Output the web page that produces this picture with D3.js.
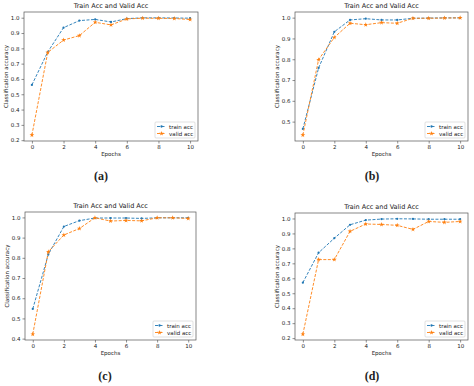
<!DOCTYPE html>
<html lang="en">
<head>
  <meta charset="UTF-8">
  <title>Train Acc and Valid Acc</title>
  <style>
    body { margin: 0; background: #fff; }
    svg { display: block; }
    text { font-family: "DejaVu Sans", sans-serif; fill: #222; }
    .caption { font-family: "Liberation Serif", "DejaVu Serif", serif; font-weight: bold; }
  </style>
</head>
<body>
  <script src="https://d3js.org/d3.v7.min.js"></script>
  <script>
    'use strict';

    const epochs = [0, 1, 2, 3, 4, 5, 6, 7, 8, 9, 10];
    const xTicks = [0, 2, 4, 6, 8, 10];

    const trainA = [0.561, 0.776, 0.935, 0.981, 0.989, 0.972, 0.994, 0.999, 0.999, 0.998, 0.997];
    const validA = [0.233, 0.773, 0.854, 0.883, 0.970, 0.953, 0.992, 0.997, 0.996, 0.995, 0.988];
    const trainB = [0.465, 0.758, 0.932, 0.989, 0.995, 0.989, 0.989, 0.997, 0.998, 0.999, 0.999];
    const validB = [0.435, 0.798, 0.905, 0.973, 0.966, 0.976, 0.973, 0.997, 0.997, 0.998, 0.999];
    const trainC = [0.547, 0.817, 0.955, 0.984, 0.997, 0.997, 0.997, 0.995, 0.998, 0.998, 0.998];
    const validC = [0.422, 0.830, 0.913, 0.945, 0.998, 0.982, 0.985, 0.983, 0.998, 0.998, 0.995];
    const trainD = [0.571, 0.771, 0.868, 0.958, 0.989, 0.996, 0.998, 0.997, 0.995, 0.995, 0.995];
    const validD = [0.226, 0.725, 0.725, 0.914, 0.963, 0.960, 0.954, 0.927, 0.980, 0.974, 0.980];

    const yTicksA = [0.2, 0.3, 0.4, 0.5, 0.6, 0.7, 0.8, 0.9, 1.0];
    const yTicksB = [0.5, 0.6, 0.7, 0.8, 0.9, 1.0];
    const yTicksC = [0.4, 0.5, 0.6, 0.7, 0.8, 0.9, 1.0];

    const seriesNames = ['train acc', 'valid acc'];
    const colors = ['#1f77b4', '#ff7f0e'];

    const W = 474, H = 386;

    const svg = d3.select('body').append('svg')
      .attr('width', W)
      .attr('height', H);

    // one panel = one matplotlib figure
    const panels = [
      { label: '(a)', train: trainA, valid: validA, yTicks: yTicksA, box: [24, 12, 198, 141], capX: 101, capY: 180 },
      { label: '(b)', train: trainB, valid: validB, yTicks: yTicksB, box: [295, 12, 468, 141], capX: 372, capY: 180 },
      { label: '(c)', train: trainC, valid: validC, yTicks: yTicksC, box: [25, 212, 196, 340], capX: 105, capY: 380 },
      { label: '(d)', train: trainD, valid: validD, yTicks: yTicksA, box: [295, 213, 468, 340], capX: 372, capY: 380 }
    ];

    function drawPanel(p) {
      const [x0, y0, x1, y1] = p.box;
      const all = p.train.concat(p.valid);
      const lo = d3.min(all), hi = d3.max(all);
      const m = (hi - lo) * 0.05;

      const x = d3.scaleLinear().domain([-0.5, 10.5]).range([x0, x1]);
      const y = d3.scaleLinear().domain([lo - m, hi + m]).range([y1, y0]);

      const g = svg.append('g');

      const xAxis = d3.axisBottom(x).tickValues(xTicks).tickSize(2.5).tickPadding(2).tickFormat(d3.format('d'));
      const yAxis = d3.axisLeft(y).tickValues(p.yTicks).tickSize(2.5).tickPadding(2).tickFormat(d3.format('.1f'));

      const gx = g.append('g').attr('transform', 'translate(0,' + y1 + ')').call(xAxis);
      const gy = g.append('g').attr('transform', 'translate(' + x0 + ',0)').call(yAxis);
      [gx, gy].forEach(a => {
        a.select('.domain').remove();
        a.selectAll('.tick line').attr('stroke', '#444').attr('stroke-width', 0.6);
        a.selectAll('.tick text').attr('font-size', 5.5).attr('fill', '#333')
          .attr('font-family', '"DejaVu Sans", sans-serif');
      });

      // frame
      g.append('rect')
        .attr('x', x0).attr('y', y0)
        .attr('width', x1 - x0).attr('height', y1 - y0)
        .attr('fill', 'none').attr('stroke', '#555').attr('stroke-width', 0.7);

      const line = d3.line().x((d, i) => x(epochs[i])).y(d => y(d));

      [p.train, p.valid].forEach((s, k) => {
        g.append('path')
          .attr('d', line(s))
          .attr('fill', 'none')
          .attr('stroke', colors[k])
          .attr('stroke-width', 0.9)
          .attr('stroke-dasharray', '3,1.5');
        const sym = k === 0 ? d3.symbol(d3.symbolCircle, 4) : d3.symbol(d3.symbolStar, 7);
        g.selectAll(null).data(s).enter().append('path')
          .attr('d', sym)
          .attr('transform', (d, i) => 'translate(' + x(epochs[i]) + ',' + y(d) + ')')
          .attr('fill', colors[k]);
      });

      // title and axis labels
      g.append('text')
        .attr('x', (x0 + x1) / 2).attr('y', y0 - 4)
        .attr('text-anchor', 'middle').attr('font-size', 6.5)
        .text('Train Acc and Valid Acc');
      g.append('text')
        .attr('x', (x0 + x1) / 2).attr('y', y1 + 15)
        .attr('text-anchor', 'middle').attr('font-size', 5.5)
        .text('Epochs');
      g.append('text')
        .attr('transform', 'translate(' + (x0 - 16) + ',' + ((y0 + y1) / 2) + ') rotate(-90)')
        .attr('text-anchor', 'middle').attr('font-size', 5.5)
        .text('Classification accuracy');

      // legend
      const lw = 40, lh = 16;
      const lx = x1 - lw - 3, ly = y1 - lh - 3;
      g.append('rect')
        .attr('x', lx).attr('y', ly).attr('width', lw).attr('height', lh).attr('rx', 1)
        .attr('fill', '#fff').attr('stroke', '#ccc').attr('stroke-width', 0.6);
      seriesNames.forEach((name, k) => {
        const cy = ly + 4.5 + k * 7;
        g.append('line')
          .attr('x1', lx + 2).attr('x2', lx + 11).attr('y1', cy).attr('y2', cy)
          .attr('stroke', colors[k]).attr('stroke-width', 0.9).attr('stroke-dasharray', '3,1.5');
        const sym = k === 0 ? d3.symbol(d3.symbolCircle, 4) : d3.symbol(d3.symbolStar, 7);
        g.append('path').attr('d', sym)
          .attr('transform', 'translate(' + (lx + 6.5) + ',' + cy + ')')
          .attr('fill', colors[k]);
        g.append('text')
          .attr('x', lx + 14).attr('y', cy + 2)
          .attr('font-size', 5.5)
          .text(name);
      });

      svg.append('text')
        .attr('class', 'caption')
        .attr('x', p.capX).attr('y', p.capY)
        .attr('text-anchor', 'middle').attr('font-size', 12)
        .text(p.label);
    }

    panels.forEach(drawPanel);
  </script>
</body>
</html>
